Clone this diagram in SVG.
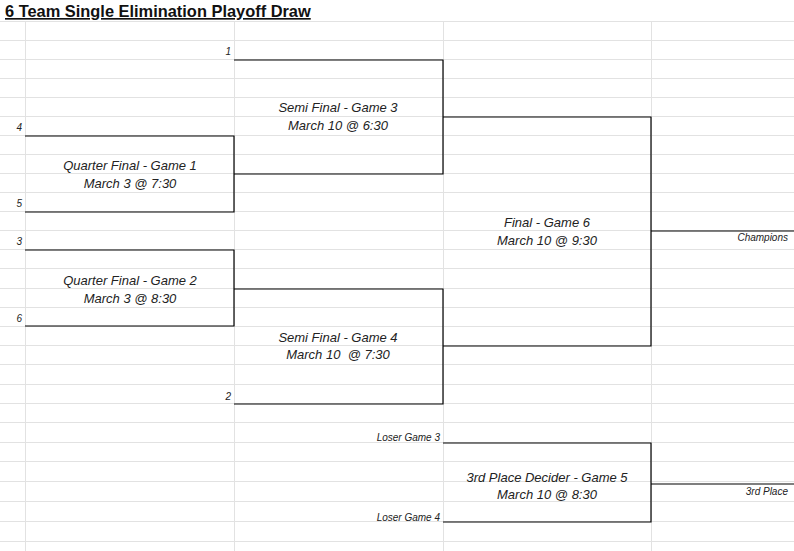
<svg xmlns="http://www.w3.org/2000/svg" width="794" height="551" viewBox="0 0 794 551">
<style>
.g{stroke:#e2e2e2;stroke-width:1}
.b{stroke:#000;stroke-width:1.2;fill:none}
.n{font-family:"Liberation Sans",Arial,sans-serif;font-style:italic;font-size:10px;fill:#222;text-anchor:end}
.l{font-family:"Liberation Sans",Arial,sans-serif;font-style:italic;font-size:13px;fill:#222;text-anchor:middle}
</style>
<rect width="794" height="551" fill="#fff"/>
<g id="grid">
<path class="g" d="M0 21.5H794M0 40.5H794M0 59.5H794M0 78.5H794M0 97.5H794M0 116.5H794M0 135.5H794M0 154.5H794M0 173.5H794M0 192.5H794M0 211.5H794M0 230.5H794M0 249.5H794M0 268.5H794M0 288.5H794M0 307.5H794M0 326.5H794M0 345.5H794M0 364.5H794M0 384.5H794M0 403.5H794M0 422.5H794M0 442.5H794M0 461.5H794M0 481.5H794M0 501.5H794M0 521.5H794M0 541.5H794M25.5 21V551M234.5 21V551M443.5 21V551M651.5 21V551"/>
</g>
<text x="5" y="17" font-family="Liberation Sans,Arial,sans-serif" font-weight="bold" font-size="16.4" text-decoration="underline" fill="#111">6 Team Single Elimination Playoff Draw</text>
<g id="connectors">
<path class="b" d="M234 60H443V174H234M25 136H234V212H25M443 117H651V346H443M25 250H234V326H25M234 289H443V404H234M651 231H794M443 443H651V522H443M651 484H794"/>
</g>
<g id="seeds">
<text class="n" x="231" y="55">1</text>
<text class="n" x="22" y="131">4</text>
<text class="n" x="22" y="207">5</text>
<text class="n" x="22" y="245">3</text>
<text class="n" x="22" y="322">6</text>
<text class="n" x="231" y="400">2</text>
<text class="n" x="440" y="441">Loser Game 3</text>
<text class="n" x="440" y="521">Loser Game 4</text>
<text class="n" x="788" y="241">Champions</text>
<text class="n" x="788" y="495">3rd Place</text>
</g>
<g id="qf1"><text class="l" x="130" y="170">Quarter Final - Game 1</text><text class="l" x="130" y="188">March 3 @ 7:30</text></g>
<g id="qf2"><text class="l" x="130" y="285">Quarter Final - Game 2</text><text class="l" x="130" y="303">March 3 @ 8:30</text></g>
<g id="sf3"><text class="l" x="338" y="112">Semi Final - Game 3</text><text class="l" x="338" y="130">March 10 @ 6:30</text></g>
<g id="sf4"><text class="l" x="338" y="342">Semi Final - Game 4</text><text class="l" x="338" y="359" xml:space="preserve">March 10  @ 7:30</text></g>
<g id="final"><text class="l" x="547" y="227">Final - Game 6</text><text class="l" x="547" y="245">March 10 @ 9:30</text></g>
<g id="third"><text class="l" x="547" y="482">3rd Place Decider - Game 5</text><text class="l" x="547" y="499">March 10 @ 8:30</text></g>
</svg>
